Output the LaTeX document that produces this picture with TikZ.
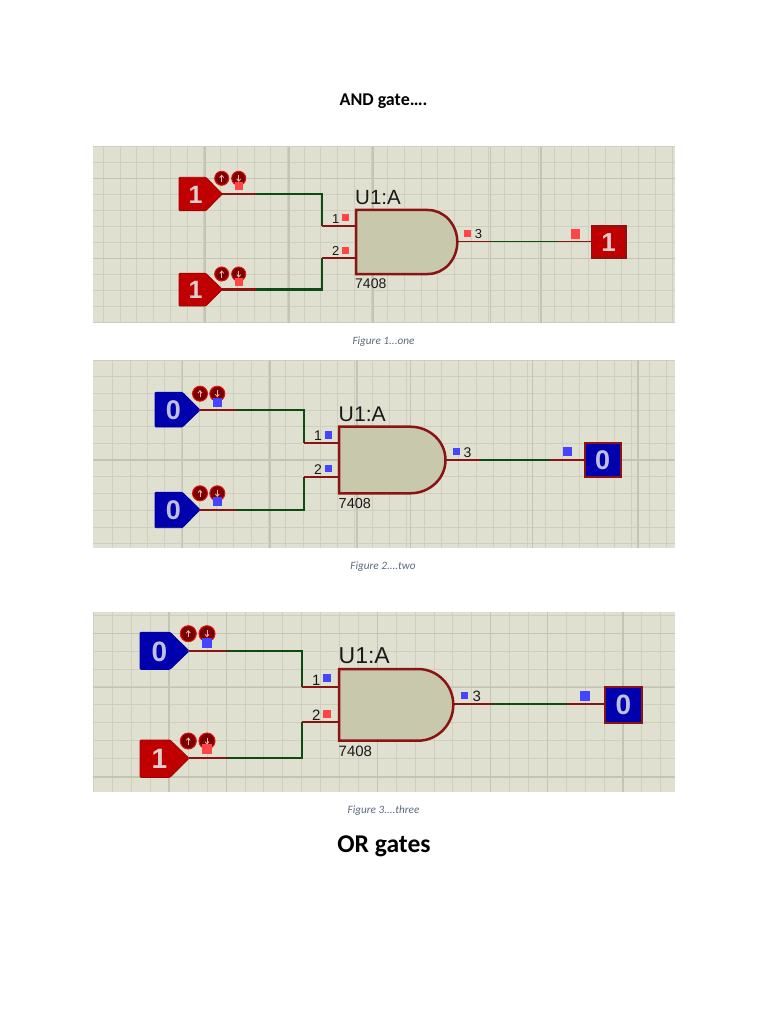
\documentclass[tikz,border=0pt]{standalone}
\usepackage{fontspec}
\setmainfont{Liberation Sans}
\newfontfamily\carlito{Carlito}
\definecolor{panelbg}{HTML}{E0E0D1}
\definecolor{gridc}{HTML}{CFCFC0}
\definecolor{gridm}{HTML}{C4C4B5}
\definecolor{gatefill}{HTML}{C8C8AC}
\definecolor{wirered}{HTML}{8A1414}
\definecolor{wiregreen}{HTML}{0F4A10}
\definecolor{sigred}{HTML}{C00000}
\definecolor{sigblue}{HTML}{0000AE}
\definecolor{sqred}{HTML}{FF4545}
\definecolor{sqblue}{HTML}{4545FF}
\definecolor{caption}{HTML}{5A6A80}
\definecolor{digitr}{HTML}{DCCFCF}
\definecolor{digitb}{HTML}{C0C0DC}
\definecolor{indfill}{HTML}{7A0000}
\definecolor{indrim}{HTML}{E01010}
\definecolor{indarrow}{HTML}{FFB0B0}
\tikzset{
  x=1pt,y=-1pt,
  gridthin/.style={draw=gridc,line width=0.9pt},
  gridthick/.style={draw=gridm,line width=1.1pt},
  redwire/.style={draw=wirered,line width=2.1pt,line join=miter},
  greenwire/.style={draw=wiregreen,line width=2.1pt,line join=miter},
  gatebody/.style={draw=wirered,fill=gatefill,line width=2.5pt},
  sourcered/.style={draw=sigred!85!black,fill=sigred,line width=0.9pt,rounded corners=1pt},
  sourceblue/.style={draw=sigblue!90!black,fill=sigblue,line width=0.9pt,rounded corners=1pt},
  sinkred/.style={draw=wirered,fill=sigred,line width=1.4pt},
  sinkblue/.style={draw=wirered,fill=sigblue,line width=2pt},
  pinsq/.style={inner sep=0pt,minimum size=#1,shape=rectangle},
  pinlab/.style={inner sep=0pt,text=black!90},
  partlab/.style={inner sep=0pt,anchor=base west,text=black!90},
  digitlab/.style={inner sep=0pt,font=\bfseries\fontsize{#1}{#1}\selectfont},
  capt/.style={inner sep=0pt,text=caption,font=\carlito\itshape\fontsize{11.2pt}{13pt}\selectfont},
  indc/.style={draw=indrim,fill=indfill,line width=1pt},
  inda/.style={draw=indarrow,line width=0.8pt},
}
% #1 x, #2 y, #3 radius, #4 spacing, #5 square offset, #6 square size, #7 colour, #8 name
\newcommand{\probes}[8]{%
  \draw[indc] (#1,#2) circle[radius=#3];
  \draw[indc] (#1+#4,#2) circle[radius=#3];
  \draw[inda] (#1,#2+3.5) -- (#1,#2-2.5);
  \draw[inda] (#1-2,#2-0.6) -- (#1,#2-3) -- (#1+2,#2-0.6);
  \draw[inda] (#1+#4,#2-3.5) -- (#1+#4,#2+2.5);
  \draw[inda] (#1+#4-2,#2+0.6) -- (#1+#4,#2+3) -- (#1+#4+2,#2+0.6);
  \node[pinsq=#6,fill=#7] (#8) at (#1+#4,#2+#5) {};
}
\begin{document}
\begin{tikzpicture}
\useasboundingbox (0,0) rectangle (768,1024);
\fill[white] (0,0) rectangle (768,1024);

\node[inner sep=0pt,font=\carlito\bfseries\fontsize{18pt}{20pt}\selectfont] (title1) at (383.5,101) {AND gate….};
\node[inner sep=0pt,font=\carlito\bfseries\fontsize{25.6pt}{28pt}\selectfont] (title2) at (384,846) {OR gates};
\node[capt] (cap1) at (383.5,342) {Figure 1...one};
\node[capt] (cap2) at (383,566.5) {Figure 2....two};
\node[capt] (cap3) at (383.5,810.5) {Figure 3....three};

%% ---------- panel 1
\begin{scope}
\clip (93,147) rectangle (675,323);
\fill[panelbg] (93,147) rectangle (675,323);
\foreach \i in {0,...,36} {\draw[gridthin] (103.5+16.72*\i,147) -- (103.5+16.72*\i,323);}
\foreach \i in {-1,...,10} {\draw[gridthin] (93,162.6+16.0*\i) -- (675,162.6+16.0*\i);}
\foreach \x in {205,289,373,490.7,541} {\draw[gridthick] (\x,147) -- (\x,323);}
\foreach \y in {178.3,258.3} {\draw[gridthick] (93,\y) -- (675,\y);}
\end{scope}
\coordinate (p1a) at (222.3,194);
\coordinate (p1am) at (256,194);
\coordinate (p1ac) at (322.3,194);
\coordinate (p1ad) at (322.3,226);
\coordinate (p1ae) at (356,226);
\coordinate (p1b) at (222.3,289.5);
\coordinate (p1bm) at (256,289.5);
\coordinate (p1bc) at (322.3,289.5);
\coordinate (p1bd) at (322.3,258);
\coordinate (p1be) at (356,258);
\coordinate (p1o) at (457.3,241.5);
\coordinate (p1om) at (490.7,241.5);
\coordinate (p1on) at (558,241.5);
\coordinate (p1oe) at (591.7,241.5);
\draw[redwire] (p1a) -- (p1am);
\draw[greenwire] (p1am) -- (p1ac) -- (p1ad);
\draw[redwire] (p1ad) -- (p1ae);
\draw[redwire] (p1b) -- (p1bm);
\draw[greenwire] (p1bm) -- (p1bc) -- (p1bd);
\draw[redwire] (p1bd) -- (p1be);
\draw[redwire,line width=1.6pt] (p1o) -- (p1om);
\draw[draw=wiregreen,line width=1.6pt] (p1om) -- (p1on);
\draw[redwire,line width=1.6pt] (p1on) -- (p1oe);
\draw[sourcered] (179,177.3) -- (205.7,177.3) -- (222.3,194) -- (205.7,210.7) -- (179,210.7) -- cycle;
\draw[sourcered] (179,273.3) -- (205.7,273.3) -- (222.3,289.5) -- (205.7,306) -- (179,306) -- cycle;
\node[digitlab=25pt,text=digitr] (d1a) at (195.5,194.5) {1};
\node[digitlab=25pt,text=digitr] (d1b) at (195.5,290) {1};
\draw[gatebody] (356,210) -- (428,210) .. controls (444,210) and (457.3,224.3) .. (457.3,242) .. controls (457.3,259.7) and (444,274) .. (428,274) -- (356,274) -- cycle;
\draw[sinkred] (591.7,226) rectangle (626,258);
\node[digitlab=26pt,text=digitr] (d1o) at (608.5,242.5) {1};
\probes{221.7}{178.3}{7}{17}{7.7}{8pt}{sqred}{q1a}
\probes{221.7}{274}{7}{17}{8}{8pt}{sqred}{q1b}
\node[partlab,font=\fontsize{20.5pt}{22pt}\selectfont] (u1) at (355,204.5) {U1:A};
\node[partlab,font=\fontsize{14pt}{16pt}\selectfont] (t1) at (355,288) {7408};
\node[pinlab,font=\fontsize{13pt}{15pt}\selectfont] (n11) at (335.7,219.5) {1};
\node[pinlab,font=\fontsize{13pt}{15pt}\selectfont] (n12) at (335.7,250.5) {2};
\node[pinlab,font=\fontsize{13pt}{15pt}\selectfont] (n13) at (478.5,234.5) {3};
\node[pinsq=7pt,fill=sqred] (s11) at (345.3,218) {};
\node[pinsq=7pt,fill=sqred] (s12) at (345.3,250) {};
\node[pinsq=7pt,fill=sqred] (s13) at (467.7,233.7) {};
\node[pinsq=9pt,fill=sqred] (s14) at (575,234) {};

%% ---------- panel 2
\begin{scope}
\clip (93,360) rectangle (675,548);
\fill[panelbg] (93,360) rectangle (675,548);
\foreach \i in {0,...,33} {\draw[gridthin] (112.7+17.3*\i,360) -- (112.7+17.3*\i,548);}
\foreach \i in {-1,...,10} {\draw[gridthin] (93,376.7+16.7*\i) -- (675,376.7+16.7*\i);}
\foreach \x in {182.3,270,357,410.7,532.7,638} {\draw[gridthick] (\x,360) -- (\x,548);}
\foreach \y in {460} {\draw[gridthick] (93,\y) -- (675,\y);}
\end{scope}
\coordinate (p2a) at (200,410);
\coordinate (p2am) at (235.7,410);
\coordinate (p2ac) at (304.3,410);
\coordinate (p2ad) at (304.3,443.3);
\coordinate (p2ae) at (339,443.3);
\coordinate (p2b) at (200,509.7);
\coordinate (p2bm) at (235.7,509.7);
\coordinate (p2bc) at (304.3,509.7);
\coordinate (p2bd) at (304.3,476.7);
\coordinate (p2be) at (339,476.7);
\coordinate (p2o) at (445.5,459.7);
\coordinate (p2om) at (480,459.7);
\coordinate (p2on) at (550,459.7);
\coordinate (p2oe) at (584,459.7);
\draw[redwire] (p2a) -- (p2am);
\draw[greenwire] (p2am) -- (p2ac) -- (p2ad);
\draw[redwire] (p2ad) -- (p2ae);
\draw[redwire] (p2b) -- (p2bm);
\draw[greenwire] (p2bm) -- (p2bc) -- (p2bd);
\draw[redwire] (p2bd) -- (p2be);
\draw[redwire] (p2o) -- (p2om);
\draw[greenwire] (p2om) -- (p2on);
\draw[redwire] (p2on) -- (p2oe);
\draw[sourceblue] (155,392.3) -- (182.3,392.3) -- (200,410) -- (182.3,427) -- (155,427) -- cycle;
\draw[sourceblue] (155,492.3) -- (182.3,492.3) -- (200,509.7) -- (182.3,527.7) -- (155,527.7) -- cycle;
\node[digitlab=27pt,text=digitb] (d2a) at (173.5,410.5) {0};
\node[digitlab=27pt,text=digitb] (d2b) at (173.5,510.5) {0};
\draw[gatebody] (339,426.7) -- (410,426.7) .. controls (430,426.7) and (445.5,441.6) .. (445.5,460) .. controls (445.5,478.4) and (430,493.3) .. (410,493.3) -- (339,493.3) -- cycle;
\draw[sinkblue] (584.5,443.2) rectangle (620.8,476.8);
\node[digitlab=27pt,text=digitb] (d2o) at (602.5,460.5) {0};
\probes{200}{393.7}{7.5}{17.3}{8.3}{9pt}{sqblue}{q2a}
\probes{200}{493.3}{7.5}{17.3}{8.3}{9pt}{sqblue}{q2b}
\node[partlab,font=\fontsize{21.2pt}{23pt}\selectfont] (u2) at (338.5,421) {U1:A};
\node[partlab,font=\fontsize{14.5pt}{16pt}\selectfont] (t2) at (338.5,508) {7408};
\node[pinlab,font=\fontsize{14pt}{16pt}\selectfont] (n21) at (318,436) {1};
\node[pinlab,font=\fontsize{14pt}{16pt}\selectfont] (n22) at (318,469.5) {2};
\node[pinlab,font=\fontsize{14pt}{16pt}\selectfont] (n23) at (467.5,452.5) {3};
\node[pinsq=7.5pt,fill=sqblue] (s21) at (328.3,435) {};
\node[pinsq=7.5pt,fill=sqblue] (s22) at (328.3,468.7) {};
\node[pinsq=7.5pt,fill=sqblue] (s23) at (456.3,451.7) {};
\node[pinsq=9.5pt,fill=sqblue] (s24) at (567.7,451.7) {};

%% ---------- panel 3
\begin{scope}
\clip (93,612) rectangle (675,792);
\fill[panelbg] (93,612) rectangle (675,792);
\foreach \i in {-1,...,30} {\draw[gridthin] (112.7+18.9*\i,612) -- (112.7+18.9*\i,792);}
\foreach \i in {-1,...,10} {\draw[gridthin] (93,633.3+17.85*\i) -- (675,633.3+17.85*\i);}
\foreach \x in {169,226.7,377.7,490.7,547.7,623} {\draw[gridthick] (\x,612) -- (\x,792);}
\foreach \y in {633.3,687.3,777} {\draw[gridthick] (93,\y) -- (675,\y);}
\end{scope}
\coordinate (p3a) at (189,651);
\coordinate (p3am) at (226.7,651);
\coordinate (p3ac) at (301.7,651);
\coordinate (p3ad) at (301.7,686.7);
\coordinate (p3ae) at (339,686.7);
\coordinate (p3b) at (189,758.3);
\coordinate (p3bm) at (226.7,758.3);
\coordinate (p3bc) at (301.7,758.3);
\coordinate (p3bd) at (301.7,722.3);
\coordinate (p3be) at (339,722.3);
\coordinate (p3o) at (453.3,704.3);
\coordinate (p3om) at (491.7,704.3);
\coordinate (p3on) at (566.7,704.3);
\coordinate (p3oe) at (604,704.3);
\draw[redwire] (p3a) -- (p3am);
\draw[greenwire] (p3am) -- (p3ac) -- (p3ad);
\draw[redwire] (p3ad) -- (p3ae);
\draw[redwire] (p3b) -- (p3bm);
\draw[greenwire] (p3bm) -- (p3bc) -- (p3bd);
\draw[redwire] (p3bd) -- (p3be);
\draw[redwire] (p3o) -- (p3om);
\draw[greenwire] (p3om) -- (p3on);
\draw[redwire] (p3on) -- (p3oe);
\draw[sourceblue] (140,632.3) -- (170,632.3) -- (189,651) -- (170,669.3) -- (140,669.3) -- cycle;
\draw[sourcered] (140,740) -- (170,740) -- (189,758.3) -- (170,777.3) -- (140,777.3) -- cycle;
\node[digitlab=28pt,text=digitb] (d3a) at (159.5,651.5) {0};
\node[digitlab=28pt,text=digitr] (d3b) at (159.5,759) {1};
\draw[gatebody] (339,669) -- (418,669) .. controls (437.5,669) and (453.3,685) .. (453.3,704.8) .. controls (453.3,724.6) and (437.5,740.7) .. (418,740.7) -- (339,740.7) -- cycle;
\draw[sinkblue] (604.5,686.5) rectangle (642.2,722.7);
\node[digitlab=28pt,text=digitb] (d3o) at (623.3,705) {0};
\probes{188.3}{633.7}{8}{18.7}{9}{10pt}{sqblue}{q3a}
\probes{188.3}{741}{8}{18.7}{8.3}{10pt}{sqred}{q3b}
\node[partlab,font=\fontsize{23pt}{25pt}\selectfont] (u3) at (338.5,663) {U1:A};
\node[partlab,font=\fontsize{15pt}{17pt}\selectfont] (t3) at (338.5,756) {7408};
\node[pinlab,font=\fontsize{15pt}{17pt}\selectfont] (n31) at (316.3,680) {1};
\node[pinlab,font=\fontsize{15pt}{17pt}\selectfont] (n32) at (316.3,715) {2};
\node[pinlab,font=\fontsize{15pt}{17pt}\selectfont] (n33) at (476.7,696.5) {3};
\node[pinsq=8pt,fill=sqblue] (s31) at (327,678) {};
\node[pinsq=8pt,fill=sqred] (s32) at (327,714) {};
\node[pinsq=7.5pt,fill=sqblue] (s33) at (464.7,695.7) {};
\node[pinsq=10pt,fill=sqblue] (s34) at (585,696) {};
\end{tikzpicture}
\end{document}
